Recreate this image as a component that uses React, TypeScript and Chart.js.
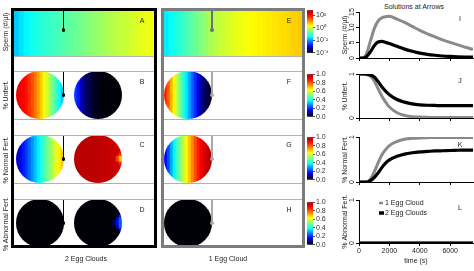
import React, { useEffect, useRef } from 'react';
import { Chart, registerables } from 'chart.js';

Chart.register(...registerables);
const FONT = '"Liberation Sans", Arial, Helvetica, sans-serif';
Chart.defaults.font.family = FONT;
Chart.defaults.color = '#222';

// ---------------- data: time courses at the arrows ----------------
const timeSec = [0, 250, 500, 750, 1000, 1250, 1500, 1750, 2000, 2500, 3000, 3500, 4000, 4500, 5000, 5500, 6000, 6500, 7000, 7500];
const spermOneCloud = [0, 0, 1.5, 5.5, 9.5, 12.0, 13.1, 13.5, 13.6, 12.7, 11.6, 10.3, 9.0, 7.9, 6.9, 5.9, 5.1, 4.3, 3.5, 2.8];
const spermTwoClouds = [0, 0, 0.5, 2.0, 4.0, 5.2, 5.4, 5.1, 4.7, 3.8, 2.9, 2.2, 1.6, 1.2, 0.9, 0.65, 0.5, 0.4, 0.33, 0.28];
const unfertOneCloud = [1, 1, 0.99, 0.95, 0.84, 0.67, 0.5, 0.36, 0.25, 0.12, 0.06, 0.03, 0.02, 0.015, 0.01, 0.01, 0.01, 0.01, 0.01, 0.01];
const unfertTwoClouds = [1, 1, 0.995, 0.98, 0.93, 0.83, 0.71, 0.61, 0.53, 0.42, 0.36, 0.32, 0.3, 0.29, 0.285, 0.28, 0.28, 0.28, 0.28, 0.28];
const normalOneCloud = [0, 0, 0, 0.06, 0.22, 0.42, 0.6, 0.72, 0.81, 0.9, 0.95, 0.97, 0.98, 0.985, 0.99, 0.99, 0.99, 0.99, 0.99, 0.99];
const normalTwoClouds = [0, 0, 0, 0.03, 0.1, 0.2, 0.32, 0.42, 0.49, 0.57, 0.62, 0.65, 0.67, 0.68, 0.69, 0.695, 0.7, 0.705, 0.71, 0.71];
const abnormalOneCloud = [0, 0, 0, 0, 0, 0, 0, 0, 0, 0, 0, 0, 0, 0, 0, 0, 0, 0, 0, 0];
const abnormalTwoClouds = [0, 0, 0, 0, 0, 0, 0, 0, 0, 0, 0, 0, 0, 0, 0, 0, 0, 0, 0, 0];
const timeTicks = [0, 2000, 4000, 6000];
const seriesNames = ['1 Egg Cloud', '2 Egg Clouds'];

// ---------------- data: sperm concentration strips (log10 #/µl) ----------------
const logSpermTwoClouds = [-1.76, -1.62, -1.48, -1.38, -1.28, -1.21, -1.14, -1.08, -1.01, -0.94, -0.87, -0.8, -0.74, -0.67, -0.6, -0.53, -0.46, -0.4, -0.33, -0.26, -0.19, -0.16, -0.09, -0.06, 0.01, 0.08, 0.11, 0.15];
const logSpermOneCloud = [-1.55, -1.42, -1.28, -1.14, -1.01, -0.87, -0.74, -0.6, -0.46, -0.33, -0.23, -0.12, -0.06, 0.01, 0.08, 0.15, 0.18, 0.22, 0.28, 0.32, 0.35, 0.39, 0.42, 0.45, 0.49, 0.52, 0.56, 0.59];
const logColorbarRange = [-4, 2.8];
const logColorbarTicks = [-4, -2, 0, 2];
const fracColorbarTicks = [0, 0.2, 0.4, 0.6, 0.8, 1];

// ---------------- data: egg cloud columns (fraction, left -> right) ----------------
const unfertTwoLeft = [0.9, 0.89, 0.88, 0.86, 0.83, 0.8, 0.76, 0.72, 0.67, 0.63, 0.58, 0.53, 0.48, 0.43, 0.38, 0.33];
const unfertTwoRight = [0.21, 0.17, 0.12, 0.08, 0.06, 0.04, 0.025, 0.015, 0.01, 0.005, 0, 0, 0, 0, 0, 0];
const normalTwoLeft = [0.12, 0.14, 0.17, 0.2, 0.24, 0.28, 0.32, 0.36, 0.4, 0.44, 0.48, 0.52, 0.56, 0.6, 0.64, 0.68];
const normalTwoRight = [0.96, 0.96, 0.96, 0.96, 0.96, 0.96, 0.96, 0.96, 0.96, 0.95, 0.95, 0.95, 0.94, 0.94, 0.93, 0.92];
const normalTwoRightSpot = [[15, 7, 0.68], [15, 8, 0.68], [14, 7, 0.82], [14, 8, 0.82], [15, 6, 0.84], [15, 9, 0.84]];
const abnormalTwoLeft = [0, 0, 0, 0, 0, 0, 0, 0, 0, 0, 0, 0, 0, 0, 0, 0];
const abnormalTwoRight = [0, 0, 0, 0, 0, 0, 0, 0, 0, 0, 0, 0, 0, 0, 0, 0];
const abnormalTwoRightSpot = [[15, 5, 0.12], [15, 6, 0.22], [15, 7, 0.24], [15, 8, 0.24], [15, 9, 0.22], [15, 10, 0.12], [14, 6, 0.12], [14, 7, 0.15], [14, 8, 0.15], [14, 9, 0.12], [13, 7, 0.06], [13, 8, 0.06]];
const unfertOne = [0.85, 0.78, 0.7, 0.63, 0.56, 0.48, 0.42, 0.36, 0.3, 0.24, 0.19, 0.14, 0.1, 0.07, 0.04, 0.02];
const normalOne = [0.15, 0.22, 0.3, 0.37, 0.44, 0.5, 0.56, 0.62, 0.68, 0.74, 0.8, 0.85, 0.89, 0.92, 0.95, 0.97];
const abnormalOne = [0, 0, 0, 0, 0, 0, 0, 0, 0, 0, 0, 0, 0, 0, 0, 0];
const CLOUD_ROWS = 16;

// ---------------- colour map (jet, dark at zero) ----------------
const STOPS = [
  [0, 0, 0, 0.03], [0.1, 0, 0, 0.6], [0.15, 0, 0, 1], [0.375, 0, 1, 1],
  [0.5, 0.5, 1, 0.5], [0.625, 1, 1, 0], [0.875, 1, 0, 0], [1, 0.6, 0, 0],
];
function cmap(t: number): string {
  const x = Math.max(0, Math.min(1, t));
  for (let i = 1; i < STOPS.length; i++) {
    if (x <= STOPS[i][0]) {
      const a = STOPS[i - 1], b = STOPS[i];
      const f = (x - a[0]) / (b[0] - a[0]);
      const c = [1, 2, 3].map(k => Math.round(255 * (a[k] + f * (b[k] - a[k]))));
      return `rgb(${c[0]},${c[1]},${c[2]})`;
    }
  }
  return 'rgb(153,0,0)';
}
const logColor = (v: number) => cmap((v - logColorbarRange[0]) / (logColorbarRange[1] - logColorbarRange[0]));
const fracColor = (v: number) => cmap(v);

const circleClip = {
  id: 'circleClip',
  beforeDatasetsDraw(chart: any) {
    const { ctx, chartArea: a } = chart;
    ctx.save();
    ctx.beginPath();
    ctx.arc((a.left + a.right) / 2, (a.top + a.bottom) / 2, Math.min(a.width, a.height) / 2, 0, Math.PI * 2);
    ctx.clip();
  },
  afterDatasetsDraw(chart: any) {
    chart.ctx.restore();
  },
};

function cloudGrid(cols: number[], spots: number[][] = []) {
  const g = Array.from({ length: CLOUD_ROWS }, () => cols.slice());
  spots.forEach(([c, r, v]) => { g[r][c] = v; });
  return g;
}

function heatConfig(grid: number[][], colorOf: (v: number) => string, round: boolean) {
  return {
    type: 'bar',
    data: {
      labels: grid[0].map((_, i) => String(i)),
      datasets: grid.map(row => ({
        data: row.map(() => 1),
        backgroundColor: row.map(colorOf),
        borderWidth: 0,
        categoryPercentage: 1,
        barPercentage: 1,
      })),
    },
    options: {
      responsive: false, animation: false, devicePixelRatio: 1, events: [],
      layout: { padding: 0 },
      plugins: { legend: { display: false }, tooltip: { enabled: false } },
      scales: {
        x: { display: false, stacked: true },
        y: { display: false, stacked: true, min: 0, max: grid.length },
      },
    },
    plugins: round ? [circleClip] : [],
  };
}

function colorbarConfig(range: number[], ticks: number[], colorOf: (v: number) => string, fmt: (v: number) => string) {
  const N = 64;
  const step = (range[1] - range[0]) / N;
  return {
    type: 'bar',
    data: {
      labels: ['c'],
      datasets: Array.from({ length: N }, (_, i) => ({
        data: [[range[0] + i * step, range[0] + (i + 1) * step]],
        backgroundColor: colorOf(range[0] + (i + 0.5) * step),
        borderWidth: 0,
        categoryPercentage: 1,
        barPercentage: 1,
      })),
    },
    options: {
      responsive: false, animation: false, devicePixelRatio: 1, events: [],
      layout: { padding: { top: 5, bottom: 5, left: 0, right: 0 } },
      plugins: { legend: { display: false }, tooltip: { enabled: false } },
      scales: {
        x: { display: false, stacked: true },
        y: {
          position: 'right', min: range[0], max: range[1],
          afterBuildTicks: (s: any) => { s.ticks = ticks.map(v => ({ value: v })); },
          afterFit: (s: any) => { s.width = 26; },
          ticks: { font: { size: 7 }, color: '#333', padding: 1, autoSkip: false, callback: (v: any) => fmt(Number(v)) },
          grid: { drawOnChartArea: false, tickLength: 2, color: '#555' },
          border: { display: false },
        },
      },
    },
  };
}

const SUP: Record<string, string> = { '-': '⁻', '0': '⁰', '1': '¹', '2': '²', '3': '³', '4': '⁴' };
const logFmt = (v: number) => '10' + String(v).split('').map(ch => SUP[ch] || ch).join('');
const fracFmt = (v: number) => v.toFixed(1);

const rotatedYTicks = {
  id: 'rotatedYTicks',
  afterDraw(chart: any) {
    const s = chart.scales.y;
    const ctx = chart.ctx;
    ctx.save();
    ctx.font = `7px ${FONT}`;
    ctx.fillStyle = '#222';
    ctx.textAlign = 'center';
    ctx.textBaseline = 'middle';
    s.ticks.forEach((t: any) => {
      ctx.save();
      ctx.translate(s.right - 7, s.getPixelForValue(t.value));
      ctx.rotate(-Math.PI / 2);
      ctx.fillText(String(t.value), 0, 0);
      ctx.restore();
    });
    ctx.restore();
  },
};

const insideLegend = {
  id: 'insideLegend',
  afterDraw(chart: any) {
    const { ctx, chartArea: a } = chart;
    ctx.save();
    ctx.font = `7px ${FONT}`;
    ctx.textBaseline = 'middle';
    ctx.fillStyle = '#222';
    const items = [chart.data.datasets[1], chart.data.datasets[0]];
    items.forEach((ds: any, i: number) => {
      const y = a.top + 3 + i * 10;
      const x = a.left + 20;
      ctx.strokeStyle = ds.borderColor;
      ctx.lineWidth = i === 0 ? 2.5 : 3.5;
      ctx.beginPath();
      ctx.moveTo(x, y);
      ctx.lineTo(x + (i === 0 ? 4 : 5), y);
      ctx.stroke();
      ctx.fillText(ds.label, x + 6, y + 0.5);
    });
    ctx.restore();
  },
};

const PAD_TOP = 8;
function lineConfig(one: number[], two: number[], yMax: number, yTicks: number[], yTitle: string, bottom: boolean) {
  const pts = (vals: number[]) => timeSec.map((t, i) => ({ x: t, y: vals[i] }));
  return {
    type: 'line',
    data: {
      datasets: [
        { label: seriesNames[1], data: pts(two), borderColor: '#000', borderWidth: 3.2, pointRadius: 0, cubicInterpolationMode: 'monotone', fill: false },
        { label: seriesNames[0], data: pts(one), borderColor: '#8a8a8a', borderWidth: 3, pointRadius: 0, cubicInterpolationMode: 'monotone', fill: false },
      ],
    },
    options: {
      responsive: false, animation: false, devicePixelRatio: 1, events: [],
      layout: { padding: { top: PAD_TOP, right: 1, left: 0, bottom: 0 } },
      plugins: { legend: { display: false }, tooltip: { enabled: false } },
      scales: {
        x: {
          type: 'linear', min: 0, max: 7500,
          afterBuildTicks: (s: any) => { s.ticks = timeTicks.map(v => ({ value: v })); },
          afterFit: (s: any) => { s.height = bottom ? 23 : 4; },
          ticks: { display: bottom, font: { size: 7 }, color: '#222', padding: 1, maxRotation: 0, autoSkip: false, callback: (v: any) => String(v) },
          grid: { drawOnChartArea: false, tickLength: 3, color: '#000' },
          border: { display: true, color: '#000', width: 1 },
          title: { display: bottom, text: 'time (s)', font: { size: 7 }, color: '#222', padding: { top: 0, bottom: 1 } },
        },
        y: {
          min: 0, max: yMax,
          afterBuildTicks: (s: any) => { s.ticks = yTicks.map(v => ({ value: v })); },
          afterFit: (s: any) => { s.width = 29; },
          ticks: { display: false },
          grid: { drawOnChartArea: false, tickLength: 3, color: '#000' },
          border: { display: true, color: '#000', width: 1 },
          title: { display: true, text: yTitle, font: { size: 7 }, color: '#222', padding: { top: 11, bottom: 0 } },
        },
      },
    },
    plugins: bottom ? [rotatedYTicks, insideLegend] : [rotatedYTicks],
  };
}

function ChartBox({ left, top, width, height, config }: { left: number; top: number; width: number; height: number; config: () => any }) {
  const ref = useRef<HTMLCanvasElement>(null);
  useEffect(() => {
    const chart = new Chart(ref.current as HTMLCanvasElement, config());
    return () => chart.destroy();
  }, []);
  return <canvas ref={ref} width={width} height={height} style={{ position: 'absolute', left, top, width, height }} />;
}

function Txt({ x, y, size = 7, rot = false, color = '#222', children }: any) {
  return (
    <div style={{
      position: 'absolute', left: x, top: y, transform: `translate(-50%, -50%)${rot ? ' rotate(-90deg)' : ''}`,
      fontFamily: FONT, fontSize: size, color, whiteSpace: 'nowrap', lineHeight: 1,
    }}>{children}</div>
  );
}

function Rect({ l, t, w, h, bg, border, radius }: any) {
  return <div style={{ position: 'absolute', left: l, top: t, width: w, height: h, background: bg || 'transparent', border, boxSizing: 'border-box', borderRadius: radius }} />;
}

function Arrow({ x, y0, y1, color }: any) {
  return (
    <>
      <Rect l={x - 0.6} t={y0} w={1.2} h={y1 - y0} bg={color} />
      <Rect l={x - 1.6} t={y1 - 1.6} w={3.2} h={3.2} bg={color} radius={2} />
    </>
  );
}

const ROW_TOPS = [71, 135, 199];
const LINE_PANELS = [
  { top: 12, h: 46 }, { top: 74, h: 44 }, { top: 137, h: 45 }, { top: 200, h: 43 },
];

export default function App() {
  const twoLeft = [unfertTwoLeft, normalTwoLeft, abnormalTwoLeft];
  const twoRight = [cloudGrid(unfertTwoRight), cloudGrid(normalTwoRight, normalTwoRightSpot), cloudGrid(abnormalTwoRight, abnormalTwoRightSpot)];
  const oneCols = [unfertOne, normalOne, abnormalOne];
  const lineDefs = [
    [spermOneCloud, spermTwoClouds, 15, [0, 5, 10, 15], 'Sperm (#/µl)'],
    [unfertOneCloud, unfertTwoClouds, 1, [0, 1], '% Unfert.'],
    [normalOneCloud, normalTwoClouds, 1, [0, 1], '% Normal Fert.'],
    [abnormalOneCloud, abnormalTwoClouds, 1, [0, 1], '% Abnormal Fert.'],
  ] as any[];
  const cbTops = [10, 74, 137, 202];
  const cbH = 43;
  return (
    <div style={{ position: 'fixed', left: 0, top: 0, width: 474, height: 271, background: '#fff', overflow: 'hidden' }}>
      {/* 2 egg clouds frame */}
      <ChartBox left={14} top={11} width={140} height={45} config={() => heatConfig([logSpermTwoClouds], logColor, false)} />
      {ROW_TOPS.map((t, i) => (
        <React.Fragment key={'two' + i}>
          <ChartBox left={15.5} top={t} width={48} height={48} config={() => heatConfig(cloudGrid(twoLeft[i]), fracColor, true)} />
          <ChartBox left={73.5} top={t} width={48} height={48} config={() => heatConfig(twoRight[i], fracColor, true)} />
        </React.Fragment>
      ))}
      {/* 1 egg cloud frame */}
      <ChartBox left={164} top={11} width={138} height={45} config={() => heatConfig([logSpermOneCloud], logColor, false)} />
      {ROW_TOPS.map((t, i) => (
        <ChartBox key={'one' + i} left={164} top={t} width={48} height={48} config={() => heatConfig(cloudGrid(oneCols[i]), fracColor, true)} />
      ))}
      {/* separators */}
      {[56, 71, 119, 135, 183, 199].map(y => (
        <React.Fragment key={'sep' + y}>
          <Rect l={14} t={y} w={140} h={1} bg="#b0b0b0" />
          <Rect l={164} t={y} w={138} h={1} bg="#b0b0b0" />
        </React.Fragment>
      ))}
      {/* arrows */}
      <Arrow x={63.5} y0={11} y1={30} color="#000" />
      {ROW_TOPS.map(t => <Arrow key={'a' + t} x={63.5} y0={t + 1} y1={t + 24} color="#000" />)}
      <Arrow x={212} y0={11} y1={30} color="#707070" />
      {ROW_TOPS.map(t => <Arrow key={'g' + t} x={212} y0={t + 1} y1={t + 24} color="#a8a8a8" />)}
      {/* frames */}
      <Rect l={11} t={8} w={146} h={240} border="3px solid #000" />
      <Rect l={161} t={8} w={144} h={240} border="3px solid #7c7c7c" />
      {/* panel letters */}
      {['A', 'B', 'C', 'D'].map((s, i) => <Txt key={s} x={142} y={[20, 81, 144, 209][i]}>{s}</Txt>)}
      {['E', 'F', 'G', 'H'].map((s, i) => <Txt key={s} x={289} y={[20, 81, 144, 209][i]}>{s}</Txt>)}
      {/* row labels */}
      <Txt x={5} y={32} rot>Sperm (#/µl)</Txt>
      <Txt x={5} y={95} rot>% Unfert.</Txt>
      <Txt x={5} y={160} rot>% Normal Fert.</Txt>
      <Txt x={5} y={224} rot>% Abnormal Fert.</Txt>
      <Txt x={86} y={258}>2 Egg Clouds</Txt>
      <Txt x={228} y={258}>1 Egg Cloud</Txt>
      {/* colorbars */}
      <ChartBox left={307} top={cbTops[0] - 5} width={32} height={cbH + 10} config={() => colorbarConfig(logColorbarRange, logColorbarTicks, logColor, logFmt)} />
      {cbTops.slice(1).map(t => (
        <ChartBox key={'cb' + t} left={307} top={t - 5} width={32} height={cbH + 10} config={() => colorbarConfig([0, 1], fracColorbarTicks, fracColor, fracFmt)} />
      ))}
      {/* line charts */}
      <Txt x={414} y={6}>Solutions at Arrows</Txt>
      {LINE_PANELS.map((p, i) => {
        const last = i === 3;
        const d = lineDefs[i];
        return (
          <ChartBox key={'lc' + i} left={330} top={p.top - PAD_TOP} width={144} height={PAD_TOP + p.h + (last ? 23 : 4)}
            config={() => lineConfig(d[0], d[1], d[2], d[3], d[4], last)} />
        );
      })}
      {['I', 'J', 'K', 'L'].map((s, i) => <Txt key={s} x={460} y={[18, 80, 144, 207][i]}>{s}</Txt>)}
    </div>
  );
}
